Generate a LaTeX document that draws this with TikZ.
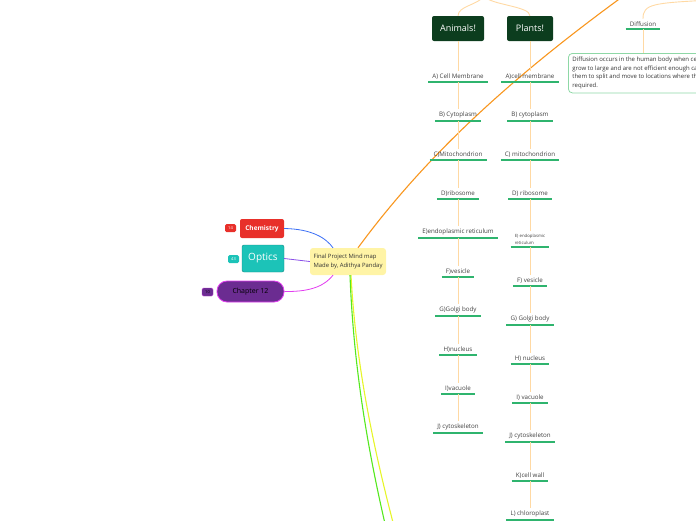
\documentclass[tikz,border=0pt]{standalone}
\usepackage{fontspec}
\setmainfont{Open Sans}
\definecolor{peach}{HTML}{FFD9A3}
\definecolor{ulgreen}{HTML}{2FB46E}
\definecolor{dkgreen}{HTML}{0C3D1E}
\definecolor{rootyellow}{HTML}{FFF4A6}
\definecolor{chemred}{HTML}{E8302A}
\definecolor{optteal}{HTML}{1CC3B8}
\definecolor{chappurple}{HTML}{6B2C91}
\definecolor{chapmag}{HTML}{E23DF0}
\definecolor{linkblue}{HTML}{3A6EF5}
\definecolor{linkviolet}{HTML}{8A4FE8}
\definecolor{linkorange}{HTML}{F8961E}
\definecolor{linkgreen}{HTML}{55E81E}
\definecolor{linkyellow}{HTML}{E6F52A}
\definecolor{boxgreen}{HTML}{8ED8A6}
\tikzset{
  item/.style={font=\fontsize{6.2}{7}\selectfont, text=black!75, inner xsep=4pt,
    inner ysep=2.5pt, align=left},
  smallitem/.style={item, font=\fontsize{4.3}{7}\selectfont},
  uline/.style={draw=ulgreen, line width=1.3pt},
  stem/.style={draw=peach, line width=0.9pt},
  kingdom/.style={fill=dkgreen, rounded corners=2pt, text=white, minimum height=25pt,
    font=\fontsize{9}{10}\selectfont},
  badge/.style={rounded corners=1.5pt, minimum width=11pt, minimum height=8pt, inner sep=0pt,
    font=\fontsize{4}{4}\selectfont}
}
\begin{document}
\begin{tikzpicture}[x=1pt,y=-1pt]
  \useasboundingbox (0,0) rectangle (696,520);
  \clip (0,0) rectangle (696,520);
  % main topic
  \node[fill=rootyellow, rounded corners=3pt, minimum width=76pt, minimum height=27pt,
    inner xsep=3pt, align=left, font=\fontsize{5.9}{8.5}\selectfont, text=black!80]
    (root) at (348,261.5) {Final Project Mind map\\Made by, Adithya Panday};
  % left topics
  \node[fill=chemred, rounded corners=2pt, minimum width=44pt, minimum height=19pt,
    text=white, font=\fontsize{6.5}{7}\selectfont\bfseries] (chem) at (262,228.5) {Chemistry};
  \node[badge, fill=chemred, text=white] (chembadge) at (230.5,228) {14};
  \node[fill=optteal, draw=optteal!70!black, rounded corners=2pt, minimum width=42pt,
    minimum height=27pt, text=white, font=\fontsize{10}{11}\selectfont] (optics) at (263,258.5) {Optics};
  \node[badge, fill=optteal, text=white] (opticsbadge) at (233.5,259) {43};
  \node[fill=chappurple, draw=chapmag, line width=0.8pt, rounded corners=10pt, minimum width=67pt,
    minimum height=21pt, text=black, font=\fontsize{7}{8}\selectfont] (chap) at (250.5,291.5) {Chapter 12};
  \node[badge, fill=chappurple, draw=chapmag!60!chappurple, text=black] (chapbadge) at (207.5,292) {10};
  \draw[linkblue, line width=0.8pt] (chem.east) .. controls (312,229) and (326,238) .. ([xshift=-15pt]root.north);
  \draw[linkviolet, line width=0.8pt] (optics.east) -- (root.west);
  \draw[chapmag, line width=0.8pt] (chap.east) .. controls (314,292) and (326,284) .. ([xshift=-15pt]root.south);
  % branches off the page
  \coordinate (orangeend) at (640,-16);
  \coordinate (greenend) at (390,545);
  \coordinate (yellowend) at (399,545);
  \draw[linkorange, line width=1.1pt] ([xshift=10pt]root.north) .. controls (430,150) and (520,70) .. (orangeend);
  \draw[linkyellow, line width=1.1pt] ([xshift=3pt]root.south) .. controls (356,370) and (376,460) .. (yellowend);
  \draw[linkgreen, line width=1.1pt] ([xshift=2pt]root.south) .. controls (354,380) and (372,470) .. (greenend);
  % animals and plants
  \coordinate (cells) at (484,-4);
  \node[kingdom, minimum width=52pt] (animals) at (458,28.5) {Animals!};
  \node[kingdom, minimum width=46pt] (plants) at (530,28.5) {Plants!};
  \draw[stem] (animals.north) .. controls (458,6) and (478,5) .. (cells);
  \draw[stem] (plants.north) .. controls (530,6) and (490,5) .. (cells);
  \foreach \lbl [count=\i] in {A) Cell Membrane, B) Cytoplasm, C)Mitochondrion, D)ribosome,
      E)endoplasmic reticulum, F)vesicle, G)Golgi body, H)nucleus, I)vacuole, J) cytoskeleton}
  {
    \node[item, anchor=south] (an\i) at (458,{82+39*(\i-1)}) {\lbl};
    \draw[uline] (an\i.south west) -- (an\i.south east);
  }
  \draw[stem] (animals.south) -- (an1.north);
  \foreach \i [evaluate=\i as \j using int(\i+1)] in {1,...,9}
    \draw[stem] (an\i.south) -- (an\j.north);
  \foreach \lbl/\yy/\sty [count=\i] in {A)cell membrane/82/item, B) cytoplasm/121/item,
      C) mitochondrion/160/item, D) ribosome/199/item, {E) endoplasmic\\reticulum}/247/smallitem,
      F) vesicle/286/item, G) Golgi body/325/item, H) nucleus/364/item, I) vacuole/403/item,
      J) cytoskeleton/442/item, K)cell wall/481/item, L) chloroplast/520/item}
  {
    \node[\sty, anchor=south] (pl\i) at (530,\yy) {\lbl};
    \draw[uline] (pl\i.south west) -- (pl\i.south east);
  }
  \draw[stem] (plants.south) -- (pl1.north);
  \foreach \i [evaluate=\i as \j using int(\i+1)] in {1,...,11}
    \draw[stem] (pl\i.south) -- (pl\j.north);
  % diffusion
  \coordinate (diffparent) at (712,0);
  \node[item, anchor=south] (diff) at (643,29) {Diffusion};
  \draw[uline] (diff.south west) -- (diff.south east);
  \draw[stem] (diff.north) .. controls (643,4) and (652,3) .. (diffparent);
  \node[draw=boxgreen, line width=0.8pt, rounded corners=4pt, anchor=north west, align=left,
    inner sep=4pt, font=\fontsize{6}{8.5}\selectfont, text=black!80] (difftext) at (568,53)
    {Diffusion occurs in the human body when cells\\grow to large and are not efficient enough causing\\them to split and move to locations where they are\\required.};
  \draw[stem] (diff.south) -- (diff.south |- difftext.north);
\end{tikzpicture}
\end{document}
